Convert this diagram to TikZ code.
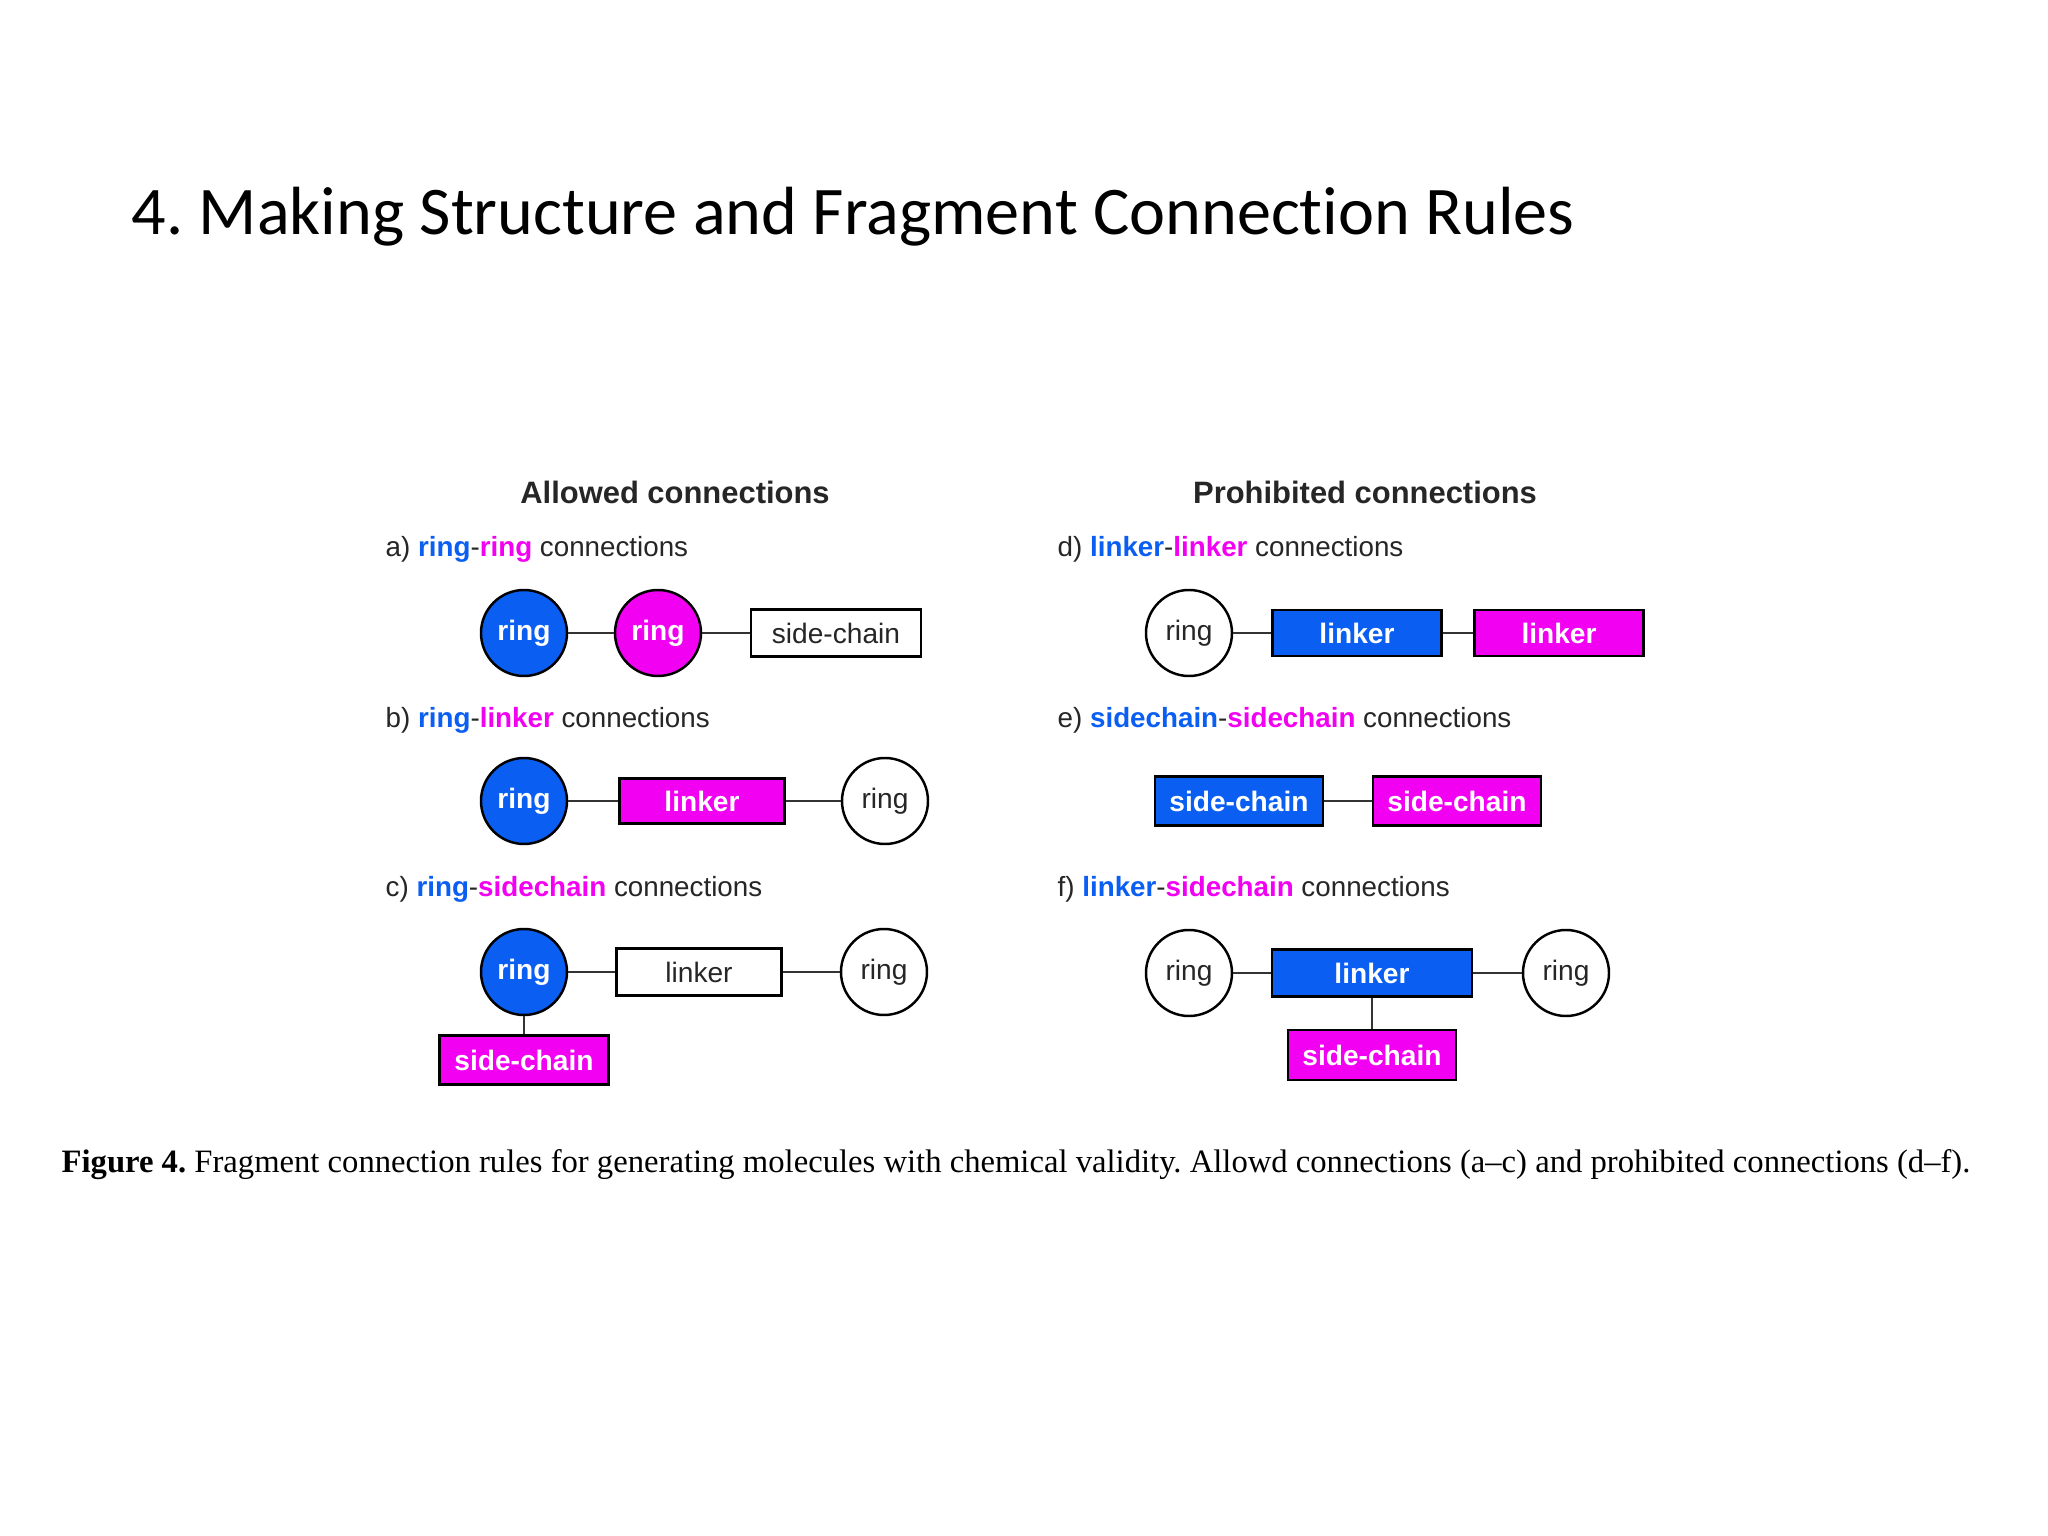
\documentclass[tikz,border=0pt]{standalone}
\usepackage{fontspec}
\setmainfont{Liberation Sans}
\newfontfamily\titlefont[Ligatures=NoCommon]{Carlito}
\newfontfamily\capfont[Ligatures=TeX]{Liberation Serif}
\usetikzlibrary{positioning}
\definecolor{fgblue}{HTML}{0A5FF2}
\definecolor{fgmagenta}{HTML}{F200F2}
\definecolor{fgline}{HTML}{333333}
\definecolor{fgtext}{HTML}{262626}
\frenchspacing

\begin{document}
\begin{tikzpicture}[font=\fontsize{8}{10}\selectfont, text=fgtext,
    ringnode/.style={circle, draw=black, line width=0.7pt, minimum size=0.86cm, inner sep=0pt},
    fragbox/.style={draw=black, line width=0.7pt, minimum height=0.47cm, inner sep=0pt},
    bluefill/.style={fill=fgblue, text=white, font=\fontsize{8}{10}\selectfont\bfseries},
    magfill/.style={fill=fgmagenta, text=white, font=\fontsize{8}{10}\selectfont\bfseries},
    rulelabel/.style={anchor=west, inner sep=0pt, font=\fontsize{7.9}{10}\selectfont},
    conn/.style={draw=fgline, line width=0.8pt}]
  \useasboundingbox[fill=white] (0,0) rectangle (20.48,-15.36);

  % slide title
  \node[anchor=base west, inner sep=0pt, text=black, font=\titlefont\fontsize{19.4}{22}\selectfont] (title) at (1.31,-2.35)
    {4. Making Structure and Fragment Connection Rules};

  % column heads
  \node[font=\fontsize{8.8}{11}\selectfont\bfseries] (allowed) at (6.75,-4.92) {Allowed connections};
  \node[font=\fontsize{8.8}{11}\selectfont\bfseries] (prohib) at (13.65,-4.92) {Prohibited connections};

  % rule labels
  \node[rulelabel] (la) at (3.85,-5.49) {a) \textcolor{fgblue}{\textbf{ring}}-\textcolor{fgmagenta}{\textbf{ring}} connections};
  \node[rulelabel] (lb) at (3.85,-7.20) {b) \textcolor{fgblue}{\textbf{ring}}-\textcolor{fgmagenta}{\textbf{linker}} connections};
  \node[rulelabel] (lc) at (3.85,-8.89) {c) \textcolor{fgblue}{\textbf{ring}}-\textcolor{fgmagenta}{\textbf{sidechain}} connections};
  \node[rulelabel] (ld) at (10.57,-5.49) {d) \textcolor{fgblue}{\textbf{linker}}-\textcolor{fgmagenta}{\textbf{linker}} connections};
  \node[rulelabel] (le) at (10.57,-7.20) {e) \textcolor{fgblue}{\textbf{sidechain}}-\textcolor{fgmagenta}{\textbf{sidechain}} connections};
  \node[rulelabel] (lf) at (10.57,-8.89) {f) \textcolor{fgblue}{\textbf{linker}}-\textcolor{fgmagenta}{\textbf{sidechain}} connections};

  % a) ring-ring
  \node[ringnode, bluefill] (a1) at (5.24,-6.33) {ring};
  \node[ringnode, magfill] (a2) at (6.58,-6.33) {ring};
  \node[fragbox, minimum width=1.70cm] (a3) at (8.36,-6.33) {side-chain};

  % b) ring-linker
  \node[ringnode, bluefill] (b1) at (5.24,-8.01) {ring};
  \node[fragbox, magfill, minimum width=1.65cm, minimum height=0.45cm] (b2) at (7.02,-8.01) {linker};
  \node[ringnode] (b3) at (8.85,-8.01) {ring};

  % c) ring-sidechain
  \node[ringnode, bluefill] (c1) at (5.24,-9.72) {ring};
  \node[fragbox, minimum width=1.65cm] (c2) at (6.99,-9.72) {linker};
  \node[ringnode] (c3) at (8.84,-9.72) {ring};
  \node[fragbox, magfill, minimum width=1.69cm, minimum height=0.49cm, below=0.18cm of c1] (c4) {side-chain};

  % d) linker-linker
  \node[ringnode] (d1) at (11.89,-6.33) {ring};
  \node[fragbox, bluefill, minimum width=1.69cm, minimum height=0.46cm] (d2) at (13.57,-6.33) {linker};
  \node[fragbox, magfill, minimum width=1.69cm, minimum height=0.46cm] (d3) at (15.59,-6.33) {linker};

  % e) sidechain-sidechain
  \node[fragbox, bluefill, minimum width=1.68cm, minimum height=0.49cm] (e1) at (12.39,-8.01) {side-chain};
  \node[fragbox, magfill, minimum width=1.68cm, minimum height=0.49cm] (e2) at (14.57,-8.01) {side-chain};

  % f) linker-sidechain
  \node[ringnode] (f1) at (11.89,-9.73) {ring};
  \node[fragbox, bluefill, minimum width=2.00cm] (f2) at (13.72,-9.73) {linker};
  \node[ringnode] (f3) at (15.66,-9.73) {ring};
  \node[fragbox, magfill, minimum width=1.68cm, minimum height=0.50cm, below=0.31cm of f2] (f4) {side-chain};

  \foreach \s/\t in {a1/a2, a2/a3, b1/b2, b2/b3, c1/c2, c2/c3, c1/c4, d1/d2, d2/d3, e1/e2, f1/f2, f2/f3, f2/f4}
    \draw[conn] (\s) -- (\t);

  % caption
  \node[anchor=base west, inner sep=0pt, text=black, font=\capfont\fontsize{9.29}{11}\selectfont] (caption) at (0.61,-11.72)
    {\textbf{Figure 4.} Fragment connection rules for generating molecules with chemical validity. Allowd connections (a\textendash c) and prohibited connections (d\textendash f).};
\end{tikzpicture}
\end{document}
